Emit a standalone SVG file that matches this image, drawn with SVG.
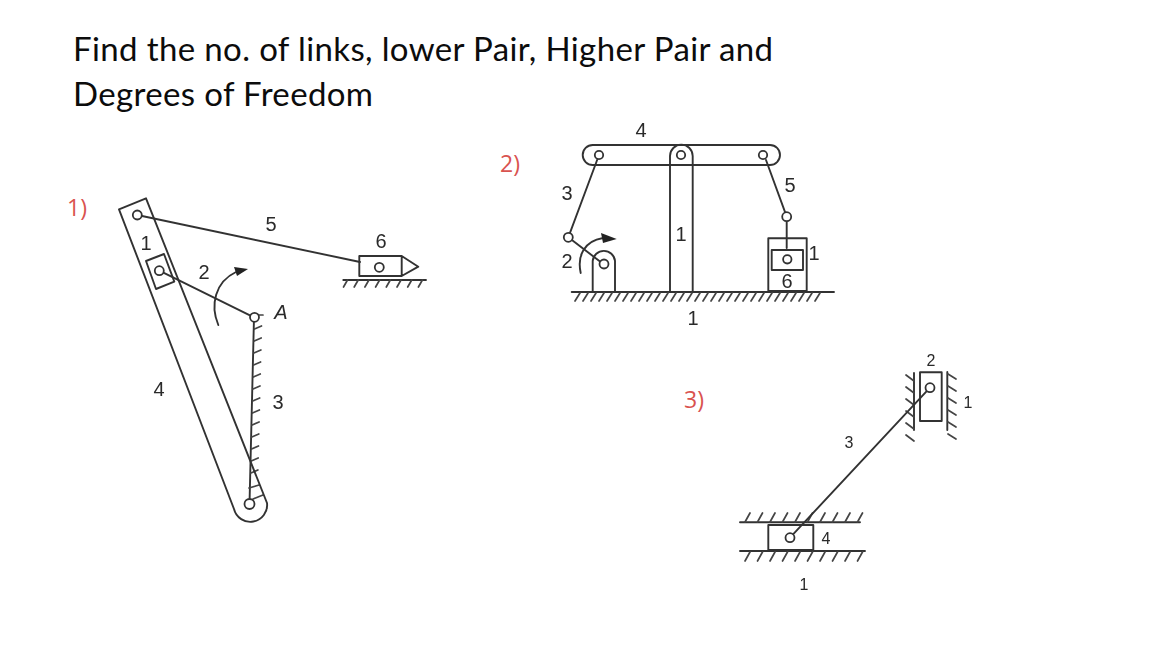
<svg xmlns="http://www.w3.org/2000/svg" width="1152" height="648" viewBox="0 0 1152 648">
<defs><filter id="soft" x="-5%" y="-5%" width="110%" height="110%"><feGaussianBlur stdDeviation="0.4"/></filter></defs>
<style>
.t{font-family:Lato,"Open Sans",sans-serif;font-size:33px;fill:#0c0c0c}
.r{font-family:"Open Sans","Noto Sans",sans-serif;font-size:23px;fill:#d9534f}
.l{font-family:"Liberation Sans",Arial,sans-serif;font-size:20px;fill:#2a2a2a;text-anchor:middle}
.s{font-size:16px}
.k{fill:none;stroke:#333;stroke-width:1.9;stroke-linecap:round;stroke-linejoin:round}
.h{fill:none;stroke:#444;stroke-width:1.7;stroke-linecap:round}
.w{fill:#fff;stroke:#333;stroke-width:1.8}
.a{fill:#222}
.m{filter:url(#soft)}
</style>
<rect width="1152" height="648" fill="#fff"/>
<g id="title">
<text class="t" x="73" y="61" textLength="700" lengthAdjust="spacing">Find the no. of links, lower Pair, Higher Pair and</text>
<text class="t" x="73" y="106" textLength="300" lengthAdjust="spacing">Degrees of Freedom</text>
</g>
<g id="numbers">
<text class="r" x="67" y="216">1)</text>
<text class="r" x="500" y="172">2)</text>
<text class="r" x="684" y="408">3)</text>
</g>
<g id="mechanism-1" class="m">
<g id="m1-connectors">
<path class="k" d="M137.3 215L360 262M159.3 270.7L254 317.3M254 317.3L249.5 504"/>
<path class="h" d="M254.5 329l7-3m-7.3 15l7-3m-7.3 15l7-3m-7.3 15l7-3m-7.3 15l7-3m-7.3 15l7-3m-7.3 15l7-3m-7.3 15l7-3m-7.3 15l7-3m-7.3 15l7-3m-7.3 15l7-3m-7.3 15l7-3m-7.3 15l7-3M249 488l10-3M253 499l10-4M258 315l5 0"/>
<path class="k" d="M218.3 325C210 305 215 282 236 272"/>
<path class="a" d="M248 269L234 267L237 276Z"/>
</g>
<g id="m1-link-4"><path class="k" d="M119 209.3L146 198.3L267 503A16.8 16.8 0 0 1 234 509Z"/></g>
<g id="m1-slider-1"><path class="k" d="M146 261L164 254L174.3 281.7L156 289Z"/></g>
<circle class="w" cx="137.3" cy="215" r="4.5"/>
<circle class="w" cx="159.3" cy="270.7" r="4.5"/>
<circle class="w" cx="254.5" cy="317.3" r="4.5"/>
<circle class="w" cx="249.5" cy="504" r="5"/>
<g id="m1-slider-6">
<path class="k" d="M359.3 256H401.7V276H359.3ZM401.7 256L418.3 266.7L401.7 276M343.3 280H426"/>
<path class="h" d="M347.5 280l-4 7m14.7-7l-4 7m14.7-7l-4 7m14.7-7l-4 7m14.7-7l-4 7m14.7-7l-4 7m14.7-7l-4 7m14.7-7l-4 7"/>
<circle class="w" cx="379.3" cy="267.3" r="4.5"/>
</g>
<text class="l" x="146" y="250">1</text>
<text class="l" x="204" y="279">2</text>
<text class="l" x="278" y="409">3</text>
<text class="l" x="159" y="396">4</text>
<text class="l" x="271" y="231">5</text>
<text class="l" x="381" y="248">6</text>
<text class="l" x="281" y="319" font-style="italic">A</text>
</g>
<g id="mechanism-2" class="m">
<g id="m2-ground">
<path class="k" d="M571.7 292H834"/>
<path class="h" d="M580 293l-5 8m13-8l-5 8m13-8l-5 8m13-8l-5 8m13-8l-5 8m13-8l-5 8m13-8l-5 8m13-8l-5 8m13-8l-5 8m13-8l-5 8m13-8l-5 8m13-8l-5 8m13-8l-5 8m13-8l-5 8m13-8l-5 8m13-8l-5 8m13-8l-5 8m13-8l-5 8m13-8l-5 8m13-8l-5 8m13-8l-5 8m13-8l-5 8m13-8l-5 8m13-8l-5 8m13-8l-5 8m13-8l-5 8m13-8l-5 8m13-8l-5 8m13-8l-5 8m13-8l-5 8m13-8l-5 8"/>
</g>
<g id="m2-column"><path class="k" d="M670 292V156A11.3 11.3 0 0 1 692.7 156V292"/></g>
<g id="m2-support"><path class="k" d="M592.7 292V261A11.2 11.2 0 0 1 615 261V292"/></g>
<g id="m2-beam"><rect class="k" x="582.7" y="145" width="197.3" height="20" rx="10"/></g>
<g id="m2-connectors">
<path class="k" d="M599 155L568.3 237.3L603.3 264M766 160L786.7 216.7V248"/>
<path class="k" d="M580.7 273C577 256 584 241 603 238"/>
<path class="a" d="M616.7 239L601 233L603 243Z"/>
</g>
<g id="m2-slider">
<rect class="k" x="768.3" y="238.3" width="38.4" height="52.7"/>
<rect class="k" x="771.7" y="250" width="31.3" height="20"/>
<circle class="w" cx="787.3" cy="259.3" r="4.2"/>
</g>
<circle class="w" cx="599" cy="155" r="4.2"/>
<circle class="w" cx="681" cy="155" r="4.2"/>
<circle class="w" cx="763" cy="155" r="4.2"/>
<circle class="w" cx="568.3" cy="237.3" r="4.5"/>
<circle class="w" cx="604" cy="264" r="4.5"/>
<circle class="w" cx="786.7" cy="216.7" r="4.5"/>
<text class="l" x="641" y="137">4</text>
<text class="l" x="567" y="200">3</text>
<text class="l" x="567" y="268">2</text>
<text class="l" x="681" y="241">1</text>
<text class="l" x="790" y="192">5</text>
<text class="l" x="814" y="260">1</text>
<text class="l" x="787" y="288">6</text>
<text class="l" x="693" y="325">1</text>
</g>
<g id="mechanism-3" class="m">
<g id="m3-guides">
<path class="k" d="M740 522.3H860M740 551H865M914 373V430M947.3 372V430"/>
<path class="h" d="M745 522l5-9m7.5 9l5-9m7.5 9l5-9m7.5 9l5-9m7.5 9l5-9m7.5 9l5-9m7.5 9l5-9m7.5 9l5-9m7.5 9l5-9m7.5 9l5-9M750 552l-5 9m17.5-9l-5 9m17.5-9l-5 9m17.5-9l-5 9m17.5-9l-5 9m17.5-9l-5 9m17.5-9l-5 9m17.5-9l-5 9m17.5-9l-5 9m17.5-9l-5 9"/>
<path class="h" d="M914 381l-8-6m8 18l-8-6m8 18l-8-6m8 18l-8-6m8 18l-8-6m8 18l-8-6M948 374l8 5m-8 7l8 5m-8 7l8 5m-8 7l8 5m-8 7l8 5m-8 7l8 5"/>
</g>
<g id="m3-slider-4"><rect class="k" x="768.3" y="525" width="45" height="25"/></g>
<g id="m3-slider-2"><rect class="k" x="920" y="372.3" width="21.7" height="48.7"/></g>
<g id="m3-connector"><path class="k" d="M790 537.7L930 387.7"/></g>
<circle class="w" cx="790" cy="537.7" r="4.5"/>
<circle class="w" cx="930" cy="387.7" r="4.5"/>
<text class="l s" x="931" y="366">2</text>
<text class="l s" x="968" y="408">1</text>
<text class="l s" x="849" y="448">3</text>
<text class="l s" x="826" y="544">4</text>
<text class="l s" x="804" y="590">1</text>
</g>
</svg>
